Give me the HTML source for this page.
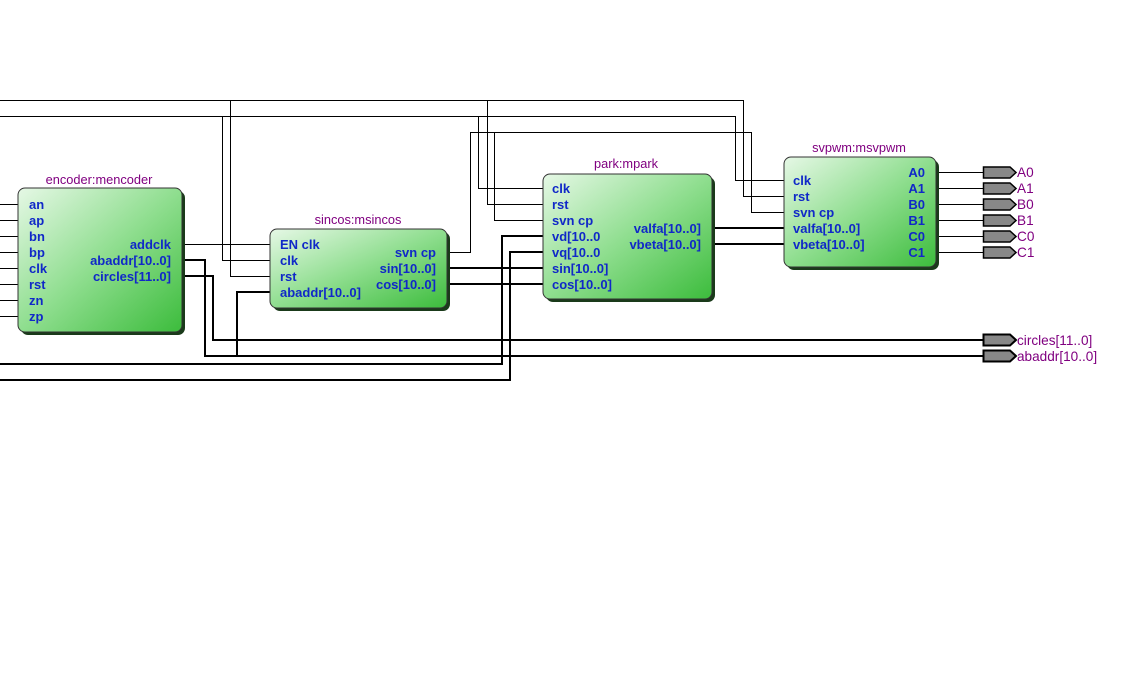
<!DOCTYPE html>
<html><head><meta charset="utf-8"><style>
html,body{margin:0;padding:0;background:#fff;}
svg text{font-family:"Liberation Sans",sans-serif;}
.l{font-size:13px;font-weight:bold;fill:#1028c8;}
.t{font-size:12.8px;fill:#800080;}
.o{font-size:13.6px;fill:#800080;}
.w{stroke:#000;stroke-width:1;fill:none;}
.b{stroke:#000;stroke-width:2;fill:none;}
</style></head><body>
<svg width="1143" height="678" viewBox="0 0 1143 678" xmlns="http://www.w3.org/2000/svg">
<defs>
<linearGradient id="g" x1="0" y1="0" x2="1" y2="1">
<stop offset="0" stop-color="#e6f8e6"/><stop offset="0.5" stop-color="#8fde8f"/><stop offset="1" stop-color="#3cbc3c"/>
</linearGradient>
</defs>
<g shape-rendering="crispEdges">
<polyline class="w" points="0,100.5 743.5,100.5 743.5,196.5 784,196.5"/>
<polyline class="w" points="230.5,100.5 230.5,276.5 270,276.5"/>
<polyline class="w" points="487.5,100.5 487.5,204.5 543,204.5"/>
<polyline class="w" points="0,116.5 735.5,116.5 735.5,180.5 784,180.5"/>
<polyline class="w" points="222.5,116.5 222.5,260.5 270,260.5"/>
<polyline class="w" points="478.5,116.5 478.5,188.5 543,188.5"/>
<polyline class="w" points="447,252.5 470.5,252.5 470.5,132.5 751.5,132.5 751.5,212.5 784,212.5"/>
<polyline class="w" points="494.5,132.5 494.5,220.5 543,220.5"/>
<polyline class="w" points="183,244.5 270,244.5"/>
<g class="w">
<line x1="0" y1="204.5" x2="18" y2="204.5"/><line x1="0" y1="220.5" x2="18" y2="220.5"/>
<line x1="0" y1="236.5" x2="18" y2="236.5"/><line x1="0" y1="252.5" x2="18" y2="252.5"/>
<line x1="0" y1="268.5" x2="18" y2="268.5"/><line x1="0" y1="284.5" x2="18" y2="284.5"/>
<line x1="0" y1="300.5" x2="18" y2="300.5"/><line x1="0" y1="316.5" x2="18" y2="316.5"/>
<line x1="936" y1="172.5" x2="984" y2="172.5"/><line x1="936" y1="188.5" x2="984" y2="188.5"/>
<line x1="936" y1="204.5" x2="984" y2="204.5"/><line x1="936" y1="220.5" x2="984" y2="220.5"/>
<line x1="936" y1="236.5" x2="984" y2="236.5"/><line x1="936" y1="252.5" x2="984" y2="252.5"/>
</g>
<polyline class="b" points="183,260 205,260 205,356 984,356"/>
<polyline class="b" points="237,356 237,292 270,292"/>
<polyline class="b" points="183,276 213,276 213,340 984,340"/>
<polyline class="b" points="0,364 502,364 502,236 543,236"/>
<polyline class="b" points="0,380 510,380 510,252 543,252"/>
<line class="b" x1="447" y1="268" x2="543" y2="268"/>
<line class="b" x1="447" y1="284" x2="543" y2="284"/>
<line class="b" x1="712" y1="228" x2="784" y2="228"/>
<line class="b" x1="712" y1="244" x2="784" y2="244"/>
</g>
<g>
<rect x="21" y="191" width="164" height="144" rx="7" fill="#1a3a1a"/>
<rect x="18" y="188" width="164" height="144" rx="7" fill="url(#g)" stroke="#333" stroke-width="1"/>
<rect x="273" y="232" width="177" height="79" rx="7" fill="#1a3a1a"/>
<rect x="270" y="229" width="177" height="79" rx="7" fill="url(#g)" stroke="#333" stroke-width="1"/>
<rect x="546" y="177" width="169" height="125" rx="7" fill="#1a3a1a"/>
<rect x="543" y="174" width="169" height="125" rx="7" fill="url(#g)" stroke="#333" stroke-width="1"/>
<rect x="787" y="160" width="152" height="110" rx="7" fill="#1a3a1a"/>
<rect x="784" y="157" width="152" height="110" rx="7" fill="url(#g)" stroke="#333" stroke-width="1"/>
</g>
<text class="t" x="99" y="184" text-anchor="middle">encoder:mencoder</text>
<text class="t" x="358" y="224" text-anchor="middle">sincos:msincos</text>
<text class="t" x="626" y="168" text-anchor="middle">park:mpark</text>
<text class="t" x="859" y="152" text-anchor="middle">svpwm:msvpwm</text>
<g class="l">
<text x="29" y="209">an</text><text x="29" y="225">ap</text><text x="29" y="241">bn</text><text x="29" y="257">bp</text>
<text x="29" y="273">clk</text><text x="29" y="289">rst</text><text x="29" y="305">zn</text><text x="29" y="321">zp</text>
<g text-anchor="end"><text x="171" y="249">addclk</text><text x="171" y="265">abaddr[10..0]</text><text x="171" y="281">circles[11..0]</text></g>
<text x="280" y="249">EN clk</text><text x="280" y="265">clk</text><text x="280" y="281">rst</text><text x="280" y="297">abaddr[10..0]</text>
<g text-anchor="end"><text x="436" y="257">svn cp</text><text x="436" y="273">sin[10..0]</text><text x="436" y="289">cos[10..0]</text></g>
<text x="552" y="193">clk</text><text x="552" y="209">rst</text><text x="552" y="225">svn cp</text><text x="552" y="241">vd[10..0</text>
<text x="552" y="257">vq[10..0</text><text x="552" y="273">sin[10..0]</text><text x="552" y="289">cos[10..0]</text>
<g text-anchor="end"><text x="701" y="233">valfa[10..0]</text><text x="701" y="249">vbeta[10..0]</text></g>
<text x="793" y="185">clk</text><text x="793" y="201">rst</text><text x="793" y="217">svn cp</text><text x="793" y="233">valfa[10..0]</text><text x="793" y="249">vbeta[10..0]</text>
<g text-anchor="end"><text x="925" y="177">A0</text><text x="925" y="193">A1</text><text x="925" y="209">B0</text><text x="925" y="225">B1</text><text x="925" y="241">C0</text><text x="925" y="257">C1</text></g>
</g>
<g fill="#888" stroke="#000" stroke-width="1.5">
<polygon points="983.5,167 1010,167 1016,172.5 1010,178 983.5,178"/>
<polygon points="983.5,183 1010,183 1016,188.5 1010,194 983.5,194"/>
<polygon points="983.5,199 1010,199 1016,204.5 1010,210 983.5,210"/>
<polygon points="983.5,215 1010,215 1016,220.5 1010,226 983.5,226"/>
<polygon points="983.5,231 1010,231 1016,236.5 1010,242 983.5,242"/>
<polygon points="983.5,247 1010,247 1016,252.5 1010,258 983.5,258"/>
<polygon points="983.5,334.5 1010,334.5 1016,340 1010,345.5 983.5,345.5" stroke-width="2"/>
<polygon points="983.5,350.5 1010,350.5 1016,356 1010,361.5 983.5,361.5" stroke-width="2"/>
</g>
<g class="o">
<text x="1017" y="177">A0</text><text x="1017" y="193">A1</text><text x="1017" y="209">B0</text>
<text x="1017" y="225">B1</text><text x="1017" y="241">C0</text><text x="1017" y="257">C1</text>
<text x="1017" y="345">circles[11..0]</text><text x="1017" y="361">abaddr[10..0]</text>
</g>
</svg>
</body></html>
